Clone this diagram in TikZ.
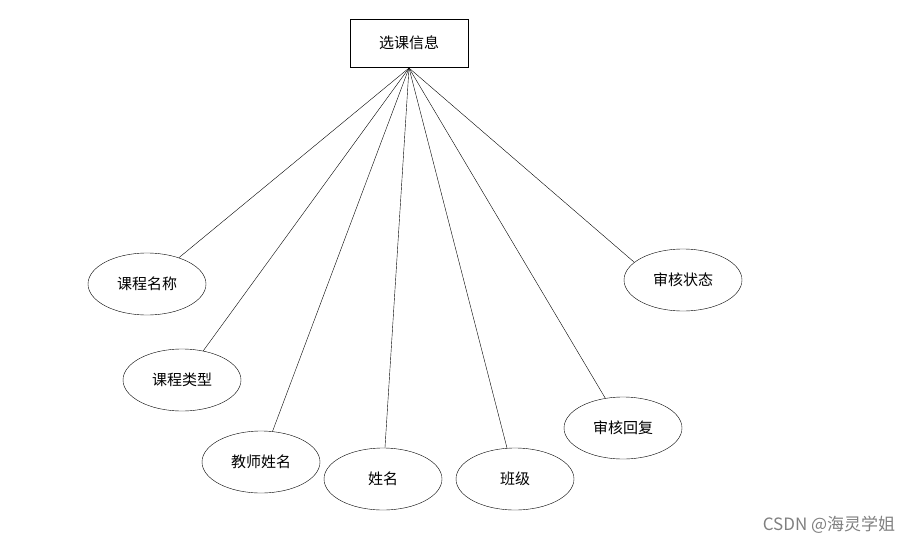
\documentclass[tikz,border=0pt]{standalone}
\usepackage{fontspec}
\usetikzlibrary{shapes.geometric}
\newfontfamily\cjk{Noto Sans CJK SC}
\begin{document}
\begin{tikzpicture}[x=1pt,y=-1pt,
  attr/.style={draw,ellipse,minimum width=118pt,minimum height=62pt,inner sep=0pt,font=\cjk\fontsize{15}{15}\selectfont},
  ent/.style={draw,rectangle,minimum width=118pt,minimum height=48pt,font=\cjk\fontsize{15}{15}\selectfont}]
\useasboundingbox (0,0) rectangle (912,544);
\node[ent] (top) at (409,43) {选课信息};
\coordinate (h) at (409,68);
\node[attr] (a1) at (147,284) {课程名称};
\node[attr] (a2) at (182,380) {课程类型};
\node[attr] (a3) at (261,462) {教师姓名};
\node[attr] (a4) at (383,479) {姓名};
\node[attr] (a5) at (515,479) {班级};
\node[attr] (a6) at (623,428) {审核回复};
\node[attr] (a7) at (683,280) {审核状态};
\foreach \n in {a1,a2,a3,a4,a5,a6} \draw (h) -- (\n);
\draw (h) -- (a7.160);
\node[text=gray,font=\cjk\fontsize{17}{17}\selectfont] (wm) at (829,525) {CSDN @海灵学姐};
\end{tikzpicture}
\end{document}
